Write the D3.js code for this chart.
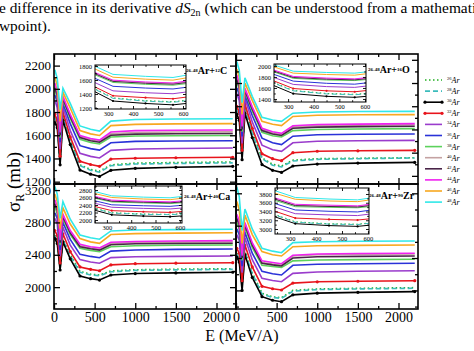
<!DOCTYPE html>
<html>
<head>
<meta charset="utf-8">
<script src="https://cdn.jsdelivr.net/npm/d3@7"></script>
<style>
body { margin: 0; background: #fff; }
svg { display: block; font-family: "Liberation Serif", "Times New Roman", "DejaVu Serif", serif; }
text { font-family: "Liberation Serif", "Times New Roman", "DejaVu Serif", serif; }
</style>
</head>
<body>
<div id="chart"></div>
<script>
var w = 474;
var h = 351;
var serif = "'Liberation Serif', 'Times New Roman', 'DejaVu Serif', serif";

// energies (MeV/A) at which sigma_R is read
var energy = [10, 40, 75, 110, 200, 320, 450, 560, 700, 1000, 1500, 2200];
var isotopes = ["26", "28", "30", "32", "34", "36", "38", "40", "42", "44", "46", "48"];

// one row per energy, one column per isotope (26..48), values in mb
var sigmaC = [
  [1765,1755,1710,1780,1900,1950,1990,2020,2010,2050,2100,2165],
  [1705,1695,1665,1730,1840,1885,1925,1955,1945,1985,2030,2090],
  [1375,1365,1345,1420,1480,1540,1580,1610,1600,1625,1720,1820],
  [1770,1760,1730,1800,1845,1875,1905,1925,1915,1935,1970,2005],
  [1560,1552,1520,1585,1640,1700,1745,1770,1760,1780,1835,1875],
  [1345,1338,1300,1375,1445,1510,1565,1590,1580,1598,1640,1680],
  [1305,1298,1265,1348,1418,1485,1538,1563,1553,1572,1612,1652],
  [1290,1282,1245,1332,1404,1472,1525,1550,1540,1558,1598,1636],
  [1345,1338,1298,1395,1470,1535,1585,1612,1600,1628,1683,1722],
  [1360,1352,1315,1402,1482,1547,1593,1624,1610,1640,1694,1736],
  [1365,1357,1324,1406,1486,1551,1596,1628,1613,1643,1698,1740],
  [1370,1362,1332,1410,1490,1553,1598,1630,1615,1645,1700,1742]
];
var sigmaO = [
  [1980,1970,1930,2000,2110,2160,2210,2240,2230,2270,2320,2385],
  [1920,1910,1880,1950,2050,2100,2145,2175,2165,2205,2250,2310],
  [1570,1560,1540,1620,1680,1740,1780,1810,1800,1825,1930,2030],
  [1990,1980,1940,2020,2070,2100,2125,2145,2135,2155,2200,2245],
  [1780,1770,1730,1810,1865,1920,1960,1985,1975,1995,2050,2085],
  [1555,1548,1497,1590,1665,1725,1775,1800,1790,1810,1870,1905],
  [1500,1492,1448,1548,1625,1685,1745,1770,1760,1780,1845,1882],
  [1485,1477,1430,1531,1611,1669,1735,1755,1748,1766,1833,1870],
  [1535,1528,1485,1600,1685,1742,1790,1822,1810,1832,1912,1940],
  [1548,1542,1502,1612,1698,1754,1800,1833,1820,1842,1922,1950],
  [1552,1548,1510,1616,1703,1758,1804,1837,1824,1846,1926,1954],
  [1556,1554,1516,1620,1706,1761,1807,1840,1827,1850,1928,1956]
];
var sigmaCa = [
  [2640,2630,2600,2700,2850,2920,2990,3040,3030,3080,3150,3245],
  [2580,2570,2540,2640,2780,2850,2910,2960,2950,3000,3060,3150],
  [2240,2230,2212,2300,2380,2460,2520,2560,2550,2580,2720,2850],
  [2590,2580,2560,2660,2740,2800,2850,2880,2870,2900,2980,3056],
  [2400,2390,2350,2440,2520,2590,2650,2680,2670,2700,2780,2840],
  [2195,2185,2138,2250,2340,2405,2480,2510,2500,2530,2600,2645],
  [2160,2150,2105,2220,2310,2380,2455,2485,2475,2500,2560,2610],
  [2150,2142,2088,2203,2295,2364,2438,2468,2458,2485,2542,2592],
  [2200,2190,2150,2275,2365,2445,2500,2540,2525,2555,2650,2695],
  [2215,2207,2168,2290,2375,2460,2512,2552,2536,2565,2662,2706],
  [2222,2214,2176,2296,2380,2467,2518,2557,2540,2570,2668,2711],
  [2228,2220,2184,2302,2385,2472,2521,2562,2542,2575,2673,2715]
];
var sigmaZr = [
  [3660,3650,3610,3720,3890,3960,4040,4100,4090,4140,4300,4480],
  [3600,3590,3550,3660,3820,3890,3960,4020,4010,4060,4200,4360],
  [3240,3230,3200,3320,3420,3500,3570,3610,3600,3630,3780,3940],
  [3680,3670,3640,3760,3850,3920,3980,4020,4010,4040,4130,4206],
  [3420,3410,3360,3490,3580,3660,3730,3770,3760,3790,3890,3960],
  [3165,3155,3122,3250,3350,3435,3510,3545,3535,3565,3680,3720],
  [3120,3112,3078,3220,3322,3405,3495,3525,3515,3545,3640,3685],
  [3110,3102,3060,3205,3307,3390,3485,3514,3502,3530,3625,3666],
  [3200,3190,3145,3290,3410,3510,3565,3625,3600,3635,3740,3790],
  [3218,3210,3166,3306,3428,3524,3576,3640,3615,3650,3752,3802],
  [3226,3218,3176,3313,3436,3530,3580,3646,3620,3656,3757,3807],
  [3234,3226,3185,3320,3443,3535,3584,3650,3625,3660,3761,3811]
];

var colors = ["#22b022", "#3cbcbc", "#000000", "#e8141c", "#9a3ccc", "#2a32d8", "#5cd25c",
              "#c4a2a2", "#4a2448", "#f020f0", "#f8a820", "#30e8e8"];
var dashes = ["1.5,2.5", "5,3", null, null, null, null, null, null, null, null, null, null];
var withMarkers = [false, false, true, true, false, false, false, false, false, false, false, false];

var svg = d3.select("#chart")
            .append("svg")
            .attr("width", w)
            .attr("height", h);

// bits of the paper text above the figure
var t1 = svg.append("text").attr("x", -1).attr("y", 12.5).style("font-size", "15.4px").style("font-family", serif);
t1.append("tspan").text("e difference in its derivative ");
t1.append("tspan").style("font-style", "italic").text("dS");
t1.append("tspan").attr("baseline-shift", "-25%").style("font-size", "10px").text("2n");
t1.append("tspan").text(" (which can be understood from a mathemati");
svg.append("text").attr("x", -1).attr("y", 31).style("font-size", "15.4px").style("font-family", serif).text("wpoint).");

function columns(table) {
  return isotopes.map(function(iso, i) {
    return table.map(function(row) { return row[i]; });
  });
}

var panels = [
  {table: sigmaC, x0: 54, x1: 236, y0: 54, y1: 184, dom: [1180, 2300], major: 200, minor: 100, left: true, bottom: false,
   inset: {x0: 95, x1: 186, y0: 65, y1: 109, dom: [1186, 1814], xdom: [248, 612], ticks: [1200, 1400, 1600, 1800]},
   tag: {x: 186, y: 74, a: "12", b: "C"}},
  {table: sigmaO, x0: 236, x1: 418, y0: 54, y1: 184, dom: [1330, 2450], major: 200, minor: 100, left: false, bottom: false,
   inset: {x0: 274, x1: 366, y0: 64, y1: 102, dom: [1345, 2036], xdom: [245, 604], ticks: [1400, 1600, 1800, 2000]},
   tag: {x: 368, y: 73, a: "16", b: "O"}},
  {table: sigmaCa, x0: 54, x1: 236, y0: 184, y1: 309, dom: [1730, 3275], major: 400, minor: 200, left: true, bottom: true,
   inset: {x0: 95, x1: 182, y0: 186, y1: 223, dom: [1920, 2907], xdom: [251, 609], ticks: [2000, 2200, 2400, 2600, 2800]},
   tag: {x: 184, y: 200, a: "40", b: "Ca"}},
  {table: sigmaZr, x0: 236, x1: 418, y0: 184, y1: 309, dom: [2970, 4515], major: 400, minor: 200, left: false, bottom: true,
   inset: {x0: 275, x1: 369, y0: 188, y1: 234, dom: [2886, 3937], xdom: [242, 604], ticks: [3000, 3200, 3400, 3600, 3800]},
   tag: {x: 369, y: 199, a: "90", b: "Zr"}}
];

var clipId = 0;

function drawCurves(g, x, y, series, lw, mr) {
  var line = d3.line()
               .x(function(d, j) { return x(energy[j]); })
               .y(function(d) { return y(d); });
  series.forEach(function(vals, i) {
    g.append("path")
     .attr("d", line(vals))
     .attr("fill", "none")
     .attr("stroke", colors[i])
     .attr("stroke-width", lw)
     .attr("stroke-dasharray", dashes[i]);
    if (withMarkers[i]) {
      g.selectAll(null)
       .data(vals)
       .enter()
       .append("circle")
       .attr("cx", function(d, j) { return x(energy[j]); })
       .attr("cy", function(d) { return y(d); })
       .attr("r", mr)
       .attr("fill", colors[i]);
    }
  });
}

function ticks(g, scale, orient, pos, values, len, labels, fs) {
  var ax = (orient == "bottom" ? d3.axisBottom(scale) : orient == "top" ? d3.axisTop(scale)
          : orient == "left" ? d3.axisLeft(scale) : d3.axisRight(scale))
          .tickValues(values)
          .tickSize(-len)
          .tickPadding(labels ? 3 : 0)
          .tickFormat(labels ? d3.format("d") : "");
  var tr = (orient == "bottom" || orient == "top") ? "translate(0," + pos + ")" : "translate(" + pos + ",0)";
  var a = g.append("g").attr("transform", tr).call(ax);
  a.attr("font-family", null);
  a.select(".domain").remove();
  a.selectAll("line").attr("stroke", "#000").attr("stroke-width", 1.3);
  a.selectAll("text").style("font-size", fs).attr("fill", "#000").style("font-family", serif);
  return a;
}

panels.forEach(function(p) {
  var series = columns(p.table);
  var x = d3.scaleLinear().domain([0, 2240]).range([p.x0, p.x1]);
  var y = d3.scaleLinear().domain(p.dom).range([p.y1, p.y0]);
  var g = svg.append("g");

  var cid = "clip" + (clipId++);
  svg.append("clipPath").attr("id", cid).append("rect")
     .attr("x", p.x0).attr("y", p.y0).attr("width", p.x1 - p.x0).attr("height", p.y1 - p.y0);
  drawCurves(g.append("g").attr("clip-path", "url(#" + cid + ")"), x, y, series, 1.6, 1.6);

  var xMajor = [0, 500, 1000, 1500, 2000];
  var xMinor = [250, 750, 1250, 1750];
  var yMajor = d3.range(Math.ceil(p.dom[0] / p.major) * p.major, p.dom[1], p.major);
  var yMinor = d3.range(Math.ceil(p.dom[0] / p.minor) * p.minor, p.dom[1], p.minor)
                 .filter(function(v) { return v % p.major != 0; });

  ticks(g, x, "bottom", p.y1, xMajor, 6, p.bottom, "14px");
  ticks(g, x, "bottom", p.y1, xMinor, 3, false);
  ticks(g, x, "top", p.y0, xMajor, 6, false);
  ticks(g, x, "top", p.y0, xMinor, 3, false);
  ticks(g, y, "left", p.x0, yMajor, 6, p.left, "13px");
  ticks(g, y, "left", p.x0, yMinor, 3, false);
  ticks(g, y, "right", p.x1, yMajor, 6, false);
  ticks(g, y, "right", p.x1, yMinor, 3, false);

  g.append("rect")
   .attr("x", p.x0).attr("y", p.y0)
   .attr("width", p.x1 - p.x0).attr("height", p.y1 - p.y0)
   .attr("fill", "none").attr("stroke", "#000").attr("stroke-width", 1.6);

  // inset zoom on 250-600 MeV/A
  var s = p.inset;
  var ix = d3.scaleLinear().domain(s.xdom).range([s.x0, s.x1]);
  var iy = d3.scaleLinear().domain(s.dom).range([s.y1, s.y0]);
  var ig = svg.append("g");
  ig.append("rect")
    .attr("x", s.x0).attr("y", s.y0)
    .attr("width", s.x1 - s.x0).attr("height", s.y1 - s.y0)
    .attr("fill", "#fff");
  var icid = "clip" + (clipId++);
  svg.append("clipPath").attr("id", icid).append("rect")
     .attr("x", s.x0).attr("y", s.y0).attr("width", s.x1 - s.x0).attr("height", s.y1 - s.y0);
  drawCurves(ig.append("g").attr("clip-path", "url(#" + icid + ")"), ix, iy, series, 1, 1.1);

  var iMinorY = s.ticks.map(function(v) { return v + 100; }).filter(function(v) { return v < s.dom[1]; });
  ticks(ig, ix, "bottom", s.y1, [300, 400, 500, 600], 3, true, "6.5px").selectAll("text").attr("dy", "0.6em");
  ticks(ig, ix, "bottom", s.y1, [250, 350, 450, 550], 1.8, false);
  ticks(ig, ix, "top", s.y0, [300, 400, 500, 600], 3, false);
  ticks(ig, ix, "top", s.y0, [250, 350, 450, 550], 1.8, false);
  ticks(ig, iy, "left", s.x0, s.ticks, 3, true, "6.5px");
  ticks(ig, iy, "left", s.x0, iMinorY, 1.8, false);
  ticks(ig, iy, "right", s.x1, s.ticks, 3, false);
  ticks(ig, iy, "right", s.x1, iMinorY, 1.8, false);
  ig.selectAll("line").attr("stroke-width", 0.9);
  ig.append("rect")
    .attr("x", s.x0).attr("y", s.y0)
    .attr("width", s.x1 - s.x0).attr("height", s.y1 - s.y0)
    .attr("fill", "none").attr("stroke", "#000").attr("stroke-width", 1);

  // reaction tag
  var tag = svg.append("text").attr("x", p.tag.x).attr("y", p.tag.y)
               .style("font-weight", "bold").style("font-size", "10px").style("font-family", serif);
  tag.append("tspan").attr("baseline-shift", "40%").style("font-size", "5px").text("26-48");
  tag.append("tspan").text("Ar+");
  tag.append("tspan").attr("baseline-shift", "40%").style("font-size", "5px").text(p.tag.a);
  tag.append("tspan").text(p.tag.b);
});

// axis titles
svg.append("text")
   .attr("x", 242).attr("y", 341)
   .attr("text-anchor", "middle")
   .style("font-size", "16px")
   .style("font-family", serif)
   .text("E (MeV/A)");

var yl = svg.append("text")
            .attr("transform", "translate(20,182) rotate(-90)")
            .attr("text-anchor", "middle")
            .style("font-size", "19px")
            .style("font-family", serif);
yl.append("tspan").text("σ");
yl.append("tspan").attr("baseline-shift", "-30%").style("font-size", "12px").text("R");
yl.append("tspan").text(" (mb)");

// legend
var lg = svg.append("g");
isotopes.forEach(function(iso, i) {
  var ly = 80 + i * 11.1;
  lg.append("line")
    .attr("x1", 425).attr("x2", 442).attr("y1", ly).attr("y2", ly)
    .attr("stroke", colors[i]).attr("stroke-width", 1.6)
    .attr("stroke-dasharray", dashes[i]);
  if (withMarkers[i]) {
    [425, 442].forEach(function(cx) {
      lg.append("circle").attr("cx", cx).attr("cy", ly).attr("r", 1.6).attr("fill", colors[i]);
    });
  }
  var lt = lg.append("text").attr("x", 447).attr("y", ly + 3).style("font-size", "8px").style("font-family", serif);
  lt.append("tspan").attr("baseline-shift", "55%").style("font-size", "4.5px").text(iso);
  lt.append("tspan").style("font-style", "italic").text("Ar");
});
</script>
</body>
</html>
